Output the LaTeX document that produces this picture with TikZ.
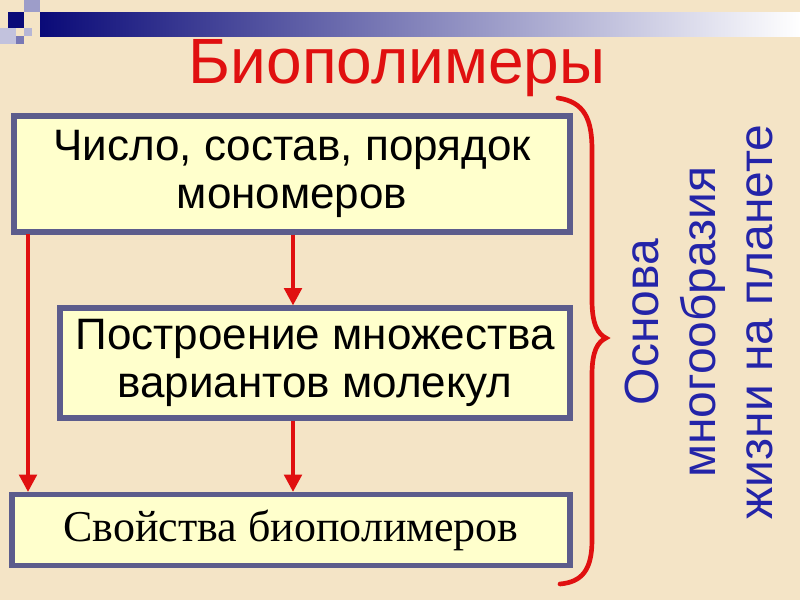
\documentclass[tikz,border=0pt]{standalone}
\usepackage{fontspec}
\setmainfont{Liberation Sans}
\newfontfamily\serifru{Liberation Serif}
\begin{document}
\begin{tikzpicture}[x=0.75pt,y=-0.75pt,
  box/.style={draw=boxline,line width=3.8pt,fill=boxfill,inner sep=0pt},
  txt/.style={font=\fontsize{33}{36}\selectfont,align=center},
  rtxt/.style={rotate=90,text=bluetxt,font=\fontsize{36}{40}\selectfont},
  arr/.style={draw=arrred,line width=3pt,-{Triangle[length=13pt,width=13pt]}}]
\definecolor{bg}{HTML}{F4E4C6}
\definecolor{boxfill}{HTML}{FFFFCC}
\definecolor{boxline}{HTML}{5C5C8C}
\definecolor{arrred}{HTML}{E01010}
\definecolor{navy}{HTML}{0A0A78}
\definecolor{bluetxt}{HTML}{2424A8}
\usetikzlibrary{arrows.meta}
\fill[bg] (0,0) rectangle (800,600);
\useasboundingbox (0,0) rectangle (800,600);
% top bar
\shade[left color=navy,right color=white] (40,12) rectangle (800,36);
\fill[navy] (8,12) rectangle (24,28);
\fill[navy!40] (24,0) rectangle (40,12);
\fill[navy!25] (0,28) rectangle (16,44);
\fill[navy!30] (24,28) rectangle (32,36);
\fill[navy!55] (16,36) rectangle (24,44);
\node[text=arrred,font=\fontsize{48}{50}\selectfont] (title) at (397,68) {Биополимеры};
% boxes
\node[box,minimum width=556pt*0.75,minimum height=116pt*0.75] (b1) at (292,174) {};
\node[txt] at (b1) {Число, состав, порядок\\мономеров};
\node[box,minimum width=510pt*0.75,minimum height=110pt*0.75] (b2) at (315,363) {};
\node[txt] at (b2) {Построение множества\\вариантов молекул};
\node[box,minimum width=558pt*0.75,minimum height=71pt*0.75] (b3) at (291,530) {};
\node[font=\serifru\fontsize{33}{36}\selectfont] at (b3) {Свойства биополимеров};
% arrows
\coordinate (l1) at (28,234);
\coordinate (l2) at (28,492);
\draw[arr] (l1) -- (l2);
\draw[arr] (b1.south -| 293,0) -- (b2.north -| 293,0);
\draw[arr] (b2.south -| 293,0) -- (b3.north -| 293,0);
% brace
\coordinate (bt) at (558,98);
\coordinate (bm) at (606,338);
\coordinate (bb) at (560,584);
\draw[arrred,line width=3.5pt,line cap=round] (bt) .. controls (585,102) and (592,120) .. (592,150)
  -- (592,300) .. controls (592,325) and (598,334) .. (bm)
  .. controls (598,342) and (592,350) .. (592,375)
  -- (592,540) .. controls (592,570) and (582,582) .. (bb);
% rotated text
\node[rtxt] (t1) at (642,322) {Основа};
\node[rtxt] (t2) at (703,322) {многообразия};
\node[rtxt] (t3) at (760,322) {жизни на планете};
\end{tikzpicture}
\end{document}
